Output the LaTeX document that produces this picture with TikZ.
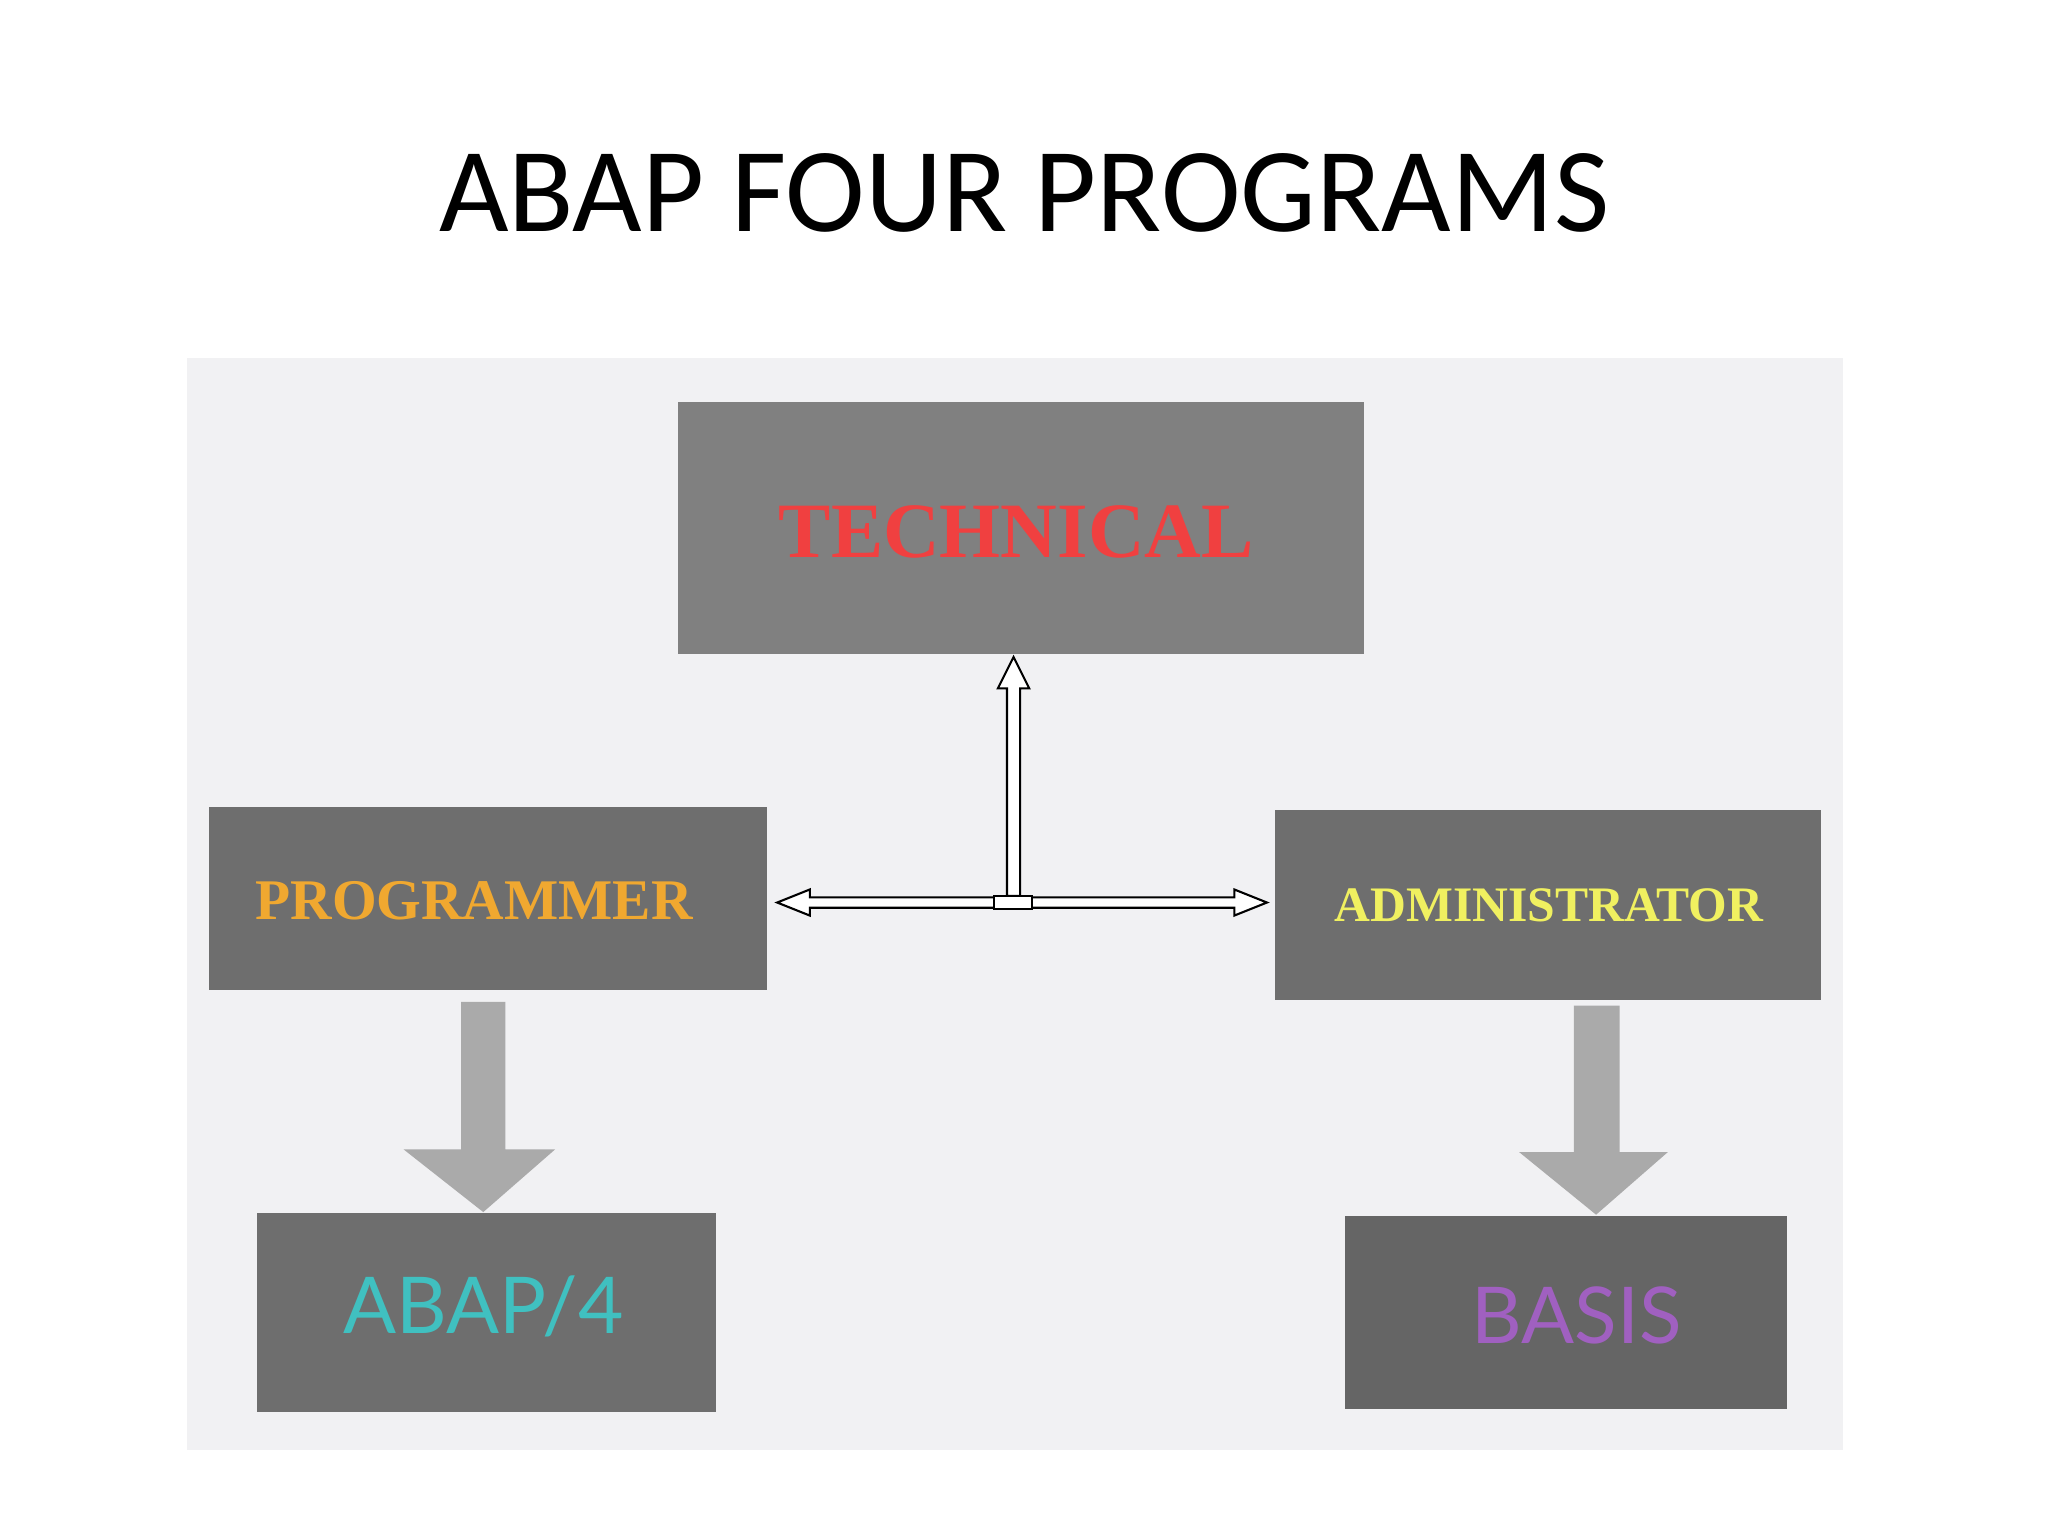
\documentclass[tikz,border=0pt]{standalone}
\usepackage{fontspec}
\setmainfont{Carlito}
\newfontfamily\boxfont{Liberation Serif}
\newfontfamily\lightfont{Lato}
\begin{document}
\begin{tikzpicture}[x=0.5pt,y=-0.5pt]
\definecolor{panel}{HTML}{F1F1F3}
\definecolor{gA}{HTML}{808080}
\definecolor{gB}{HTML}{6E6E6E}
\definecolor{gC}{HTML}{656565}
\definecolor{arr}{HTML}{AAAAAA}
\tikzset{box/.style={inner sep=0pt,outer sep=0pt},
  lbl/.style={font=\boxfont\bfseries\fontsize{30}{30}\selectfont},
  hollow/.style={draw=black,fill=white,line width=0.8pt}}
\useasboundingbox (0,0) rectangle (1568,1176);
\fill[white] (0,0) rectangle (1568,1176);
\node (title) at (784,148) {\fontsize{46}{46}\selectfont ABAP FOUR PROGRAMS};
\fill[panel] (143,274) rectangle (1411,1110);
\fill[gA] (519,308) rectangle (1044,501);
\node[lbl,text={rgb,255:red,240;green,64;blue,64}] (tech) at (778,407) {TECHNICAL};
\fill[gB] (160,618) rectangle (587,758);
\node[lbl,text={rgb,255:red,240;green,168;blue,48},font=\boxfont\bfseries\fontsize{22}{22}\selectfont] (prog) at (363,690) {PROGRAMMER};
\fill[gB] (976,620) rectangle (1394,766);
\node[lbl,text={rgb,255:red,240;green,240;blue,96},font=\boxfont\bfseries\fontsize{19}{19}\selectfont] (adm) at (1186,693) {ADMINISTRATOR};
\fill[gB] (197,929) rectangle (548,1081);
\node[text={rgb,255:red,64;green,192;blue,192},font=\lightfont\fontsize{30}{30}\selectfont] (abap) at (370,1000) {ABAP/4};
\fill[gC] (1030,931) rectangle (1368,1079);
\node[text={rgb,255:red,160;green,96;blue,192},font=\lightfont\fontsize{30}{30}\selectfont] (basis) at (1207,1007) {BASIS};
% gray arrows
\fill[arr] (353,767) -- (387,767) -- (387,880) -- (425,880) -- (370,928) -- (309,880) -- (353,880) -- cycle;
\fill[arr] (1205,770) -- (1240,770) -- (1240,882) -- (1277,882) -- (1222,930) -- (1163,882) -- (1205,882) -- cycle;
% hollow double arrow horizontal
\draw[hollow] (595,691) -- (620,681) -- (620,687) -- (945,687) -- (945,681) -- (970,691) -- (945,701) -- (945,695) -- (620,695) -- (620,701) -- cycle;
% vertical
\draw[hollow] (771,686) -- (771,527) -- (764,527) -- (776,503) -- (788,527) -- (781,527) -- (781,686) -- cycle;
\draw[hollow] (761,686) rectangle (790,696);
\end{tikzpicture}
\end{document}
